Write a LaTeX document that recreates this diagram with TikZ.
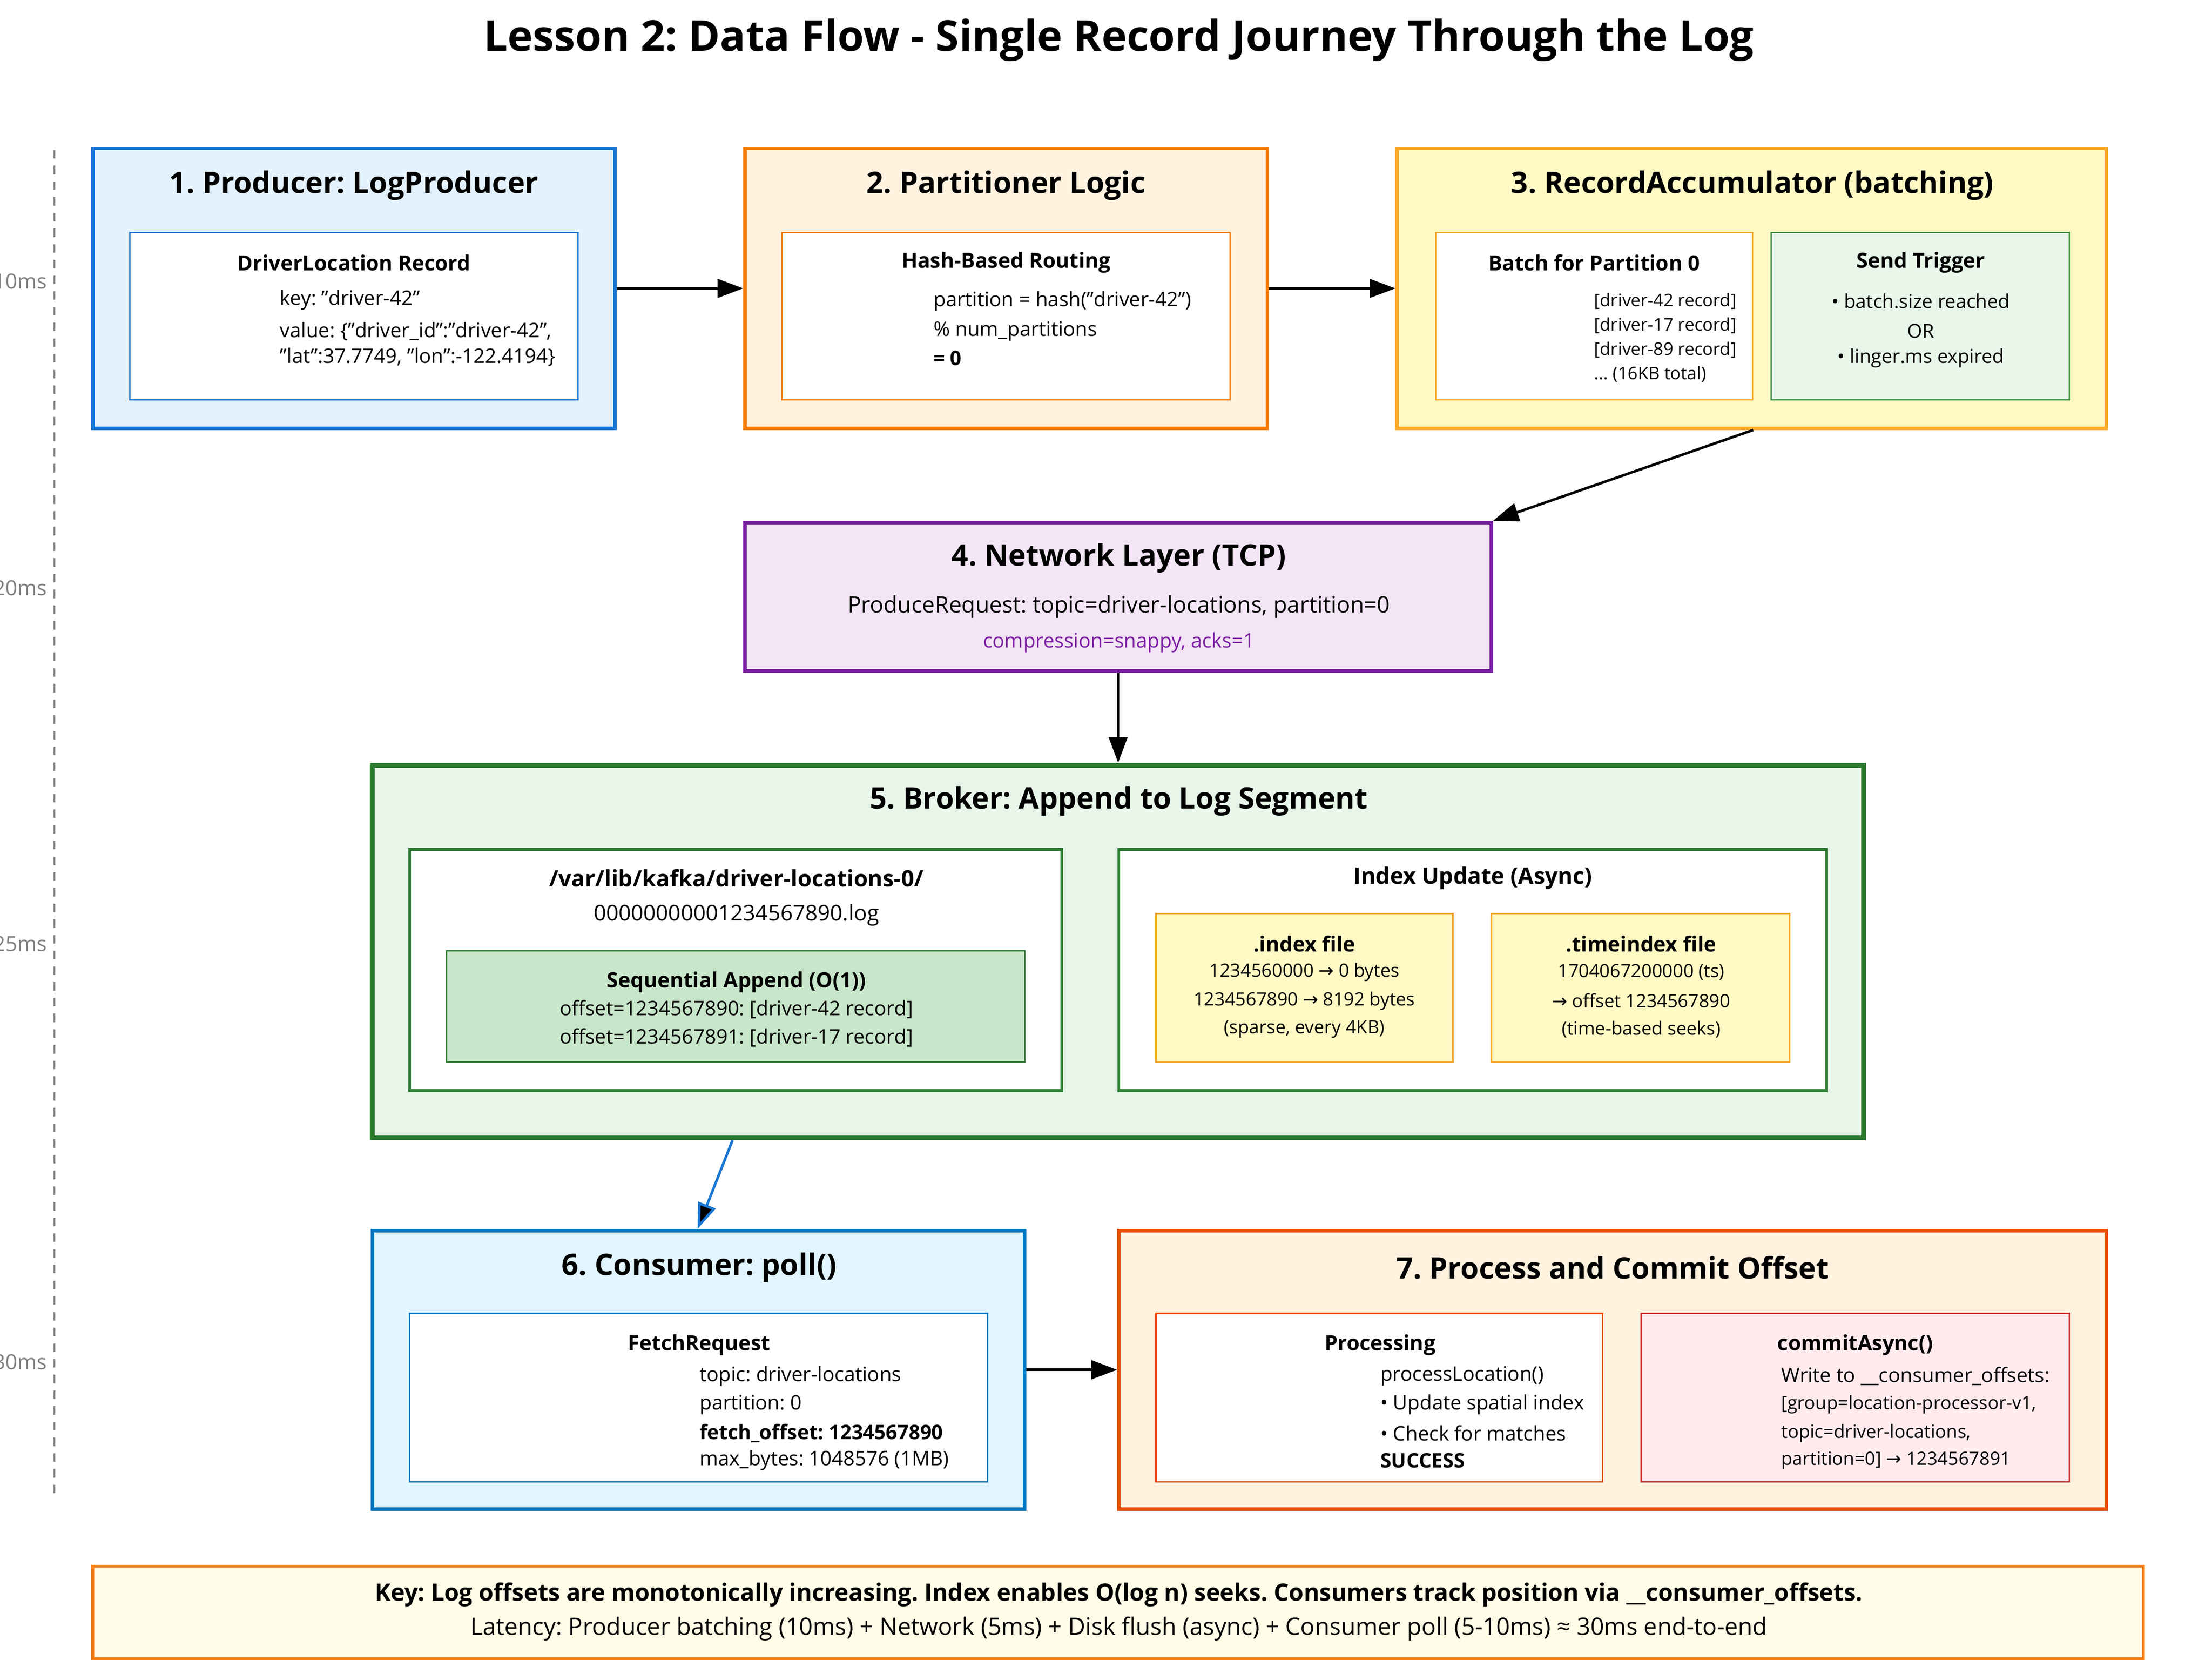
\documentclass[tikz,border=0pt]{standalone}
\usepackage{fontspec}
\setmainfont{Open Sans}
\newfontfamily\symfont{DejaVu Sans}
\frenchspacing
\usetikzlibrary{arrows.meta,positioning}
\newcommand{\fsz}[1]{\fontsize{\fpeval{1.22*#1}}{\fpeval{1.22*#1}}\selectfont}
\newcommand{\ar}{{\symfont →}}
\newcommand{\q}{\symbol{34}}
\definecolor{bluefill}{HTML}{E3F2FD}\definecolor{blueline}{HTML}{1976D2}
\definecolor{orfill}{HTML}{FFF3E0}\definecolor{orline}{HTML}{F57C00}
\definecolor{ylfill}{HTML}{FFF9C4}\definecolor{ylline}{HTML}{F9A825}
\definecolor{grfill}{HTML}{E8F5E9}\definecolor{grline}{HTML}{2E7D32}
\definecolor{grdark}{HTML}{C8E6C9}\definecolor{trgline}{HTML}{388E3C}
\definecolor{pufill}{HTML}{F3E5F5}\definecolor{puline}{HTML}{7B1FA2}
\definecolor{cyfill}{HTML}{E1F5FE}\definecolor{cyline}{HTML}{0277BD}
\definecolor{dorline}{HTML}{E65100}
\definecolor{rdfill}{HTML}{FFEBEE}\definecolor{rdline}{HTML}{C62828}
\definecolor{keyfill}{HTML}{FFFDE7}\definecolor{keyline}{HTML}{F57F17}
\tikzset{
  box/.style={draw, line width=2.4pt, inner sep=0pt},
  inbox/.style={draw, line width=1pt, inner sep=0pt},
  ttl/.style={font=\fsz{17}\bfseries, inner sep=0pt},
  sub/.style={font=\fsz{12}\bfseries, inner sep=0pt},
  txt/.style={font=\fsz{11.5}, inner sep=0pt, anchor=west},
  ctxt/.style={font=\fsz{11}, inner sep=0pt},
  tiny/.style={font=\fsz{10}, inner sep=0pt, anchor=west},
  tick/.style={font=\fsz{12}, text=gray, inner sep=0pt, anchor=east},
  flow/.style={-{Triangle[length=18pt,width=13pt]}, line width=1.8pt},
}
\newcommand{\boxat}[6]{% name, x1, y1, x2, y2, style
  \node[#6, minimum width={#4-#2}, minimum height={#5-#3}] (#1) at ({(#2+#4)/2},{(#3+#5)/2}) {};}
\begin{document}
\begin{tikzpicture}[x=1pt,y=-1pt]
  \useasboundingbox[fill=white] (0,0) rectangle (1550,1162.5);

  \node[font=\fsz{24.5}\bfseries] (title) at (784,28) {Lesson 2: Data Flow - Single Record Journey Through the Log};

  % time axis
  \draw[gray, dashed, line width=1.2pt, dash pattern=on 6pt off 5pt] (38,105) -- (38,1050);
  \node[tick] (t1) at (33,197) {10ms};
  \node[tick] (t2) at (33,412) {20ms};
  \node[tick] (t3) at (33,661) {25ms};
  \node[tick] (t4) at (33,954) {30ms};

  % 1. producer
  \boxat{prod}{65}{104}{431}{300}{box, draw=blueline, fill=bluefill}
  \node[ttl] (prodT) at (248,130) {1. Producer: LogProducer};
  \boxat{rec}{91}{163}{405}{280}{inbox, draw=blueline, fill=white}
  \node[sub] (recT) at (248,184) {DriverLocation Record};
  \node[txt] (rec1) at (196,210) {key: \q driver-42\q};
  \node[txt] (rec2) at (196,232) {value: \{\q driver\_id\q:\q driver-42\q,};
  \node[txt] (rec3) at (196,250) {\q lat\q:37.7749, \q lon\q:-122.4194\}};

  % 2. partitioner
  \boxat{part}{522}{104}{888}{300}{box, draw=orline, fill=orfill}
  \node[ttl] (partT) at (705,130) {2. Partitioner Logic};
  \boxat{hash}{548}{163}{862}{280}{inbox, draw=orline, fill=white}
  \node[sub] (hashT) at (705,184) {Hash-Based Routing};
  \node[txt] (hash1) at (654,211) {partition = hash(\q driver-42\q)};
  \node[txt] (hash2) at (654,232) {\% num\_partitions};
  \node[txt, font=\fsz{11.5}\bfseries] (hash3) at (654,251) {= 0};

  % 3. accumulator
  \boxat{acc}{979}{104}{1476}{300}{box, draw=ylline, fill=ylfill}
  \node[ttl] (accT) at (1228,130) {3. RecordAccumulator (batching)};
  \boxat{batch}{1006}{163}{1228}{280}{inbox, draw=ylline, fill=white}
  \node[sub] (batchT) at (1117,184) {Batch for Partition 0};
  \node[tiny] (b1) at (1117,211) {[driver-42 record]};
  \node[tiny] (b2) at (1117,228) {[driver-17 record]};
  \node[tiny] (b3) at (1117,245) {[driver-89 record]};
  \node[tiny] (b4) at (1117,262) {... (16KB total)};
  \boxat{trig}{1241}{163}{1450}{280}{inbox, draw=trgline, fill=grfill}
  \node[sub] (trigT) at (1346,184) {Send Trigger};
  \node[ctxt] (tr1) at (1346,211) {• batch.size reached};
  \node[ctxt] (tr2) at (1346,232) {OR};
  \node[ctxt] (tr3) at (1346,251) {• linger.ms expired};

  % 4. network
  \boxat{net}{522}{366}{1045}{470}{box, draw=puline, fill=pufill}
  \node[ttl] (netT) at (784,391) {4. Network Layer (TCP)};
  \node[font=\fsz{13}, inner sep=0pt] (net1) at (784,425) {ProduceRequest: topic=driver-locations, partition=0};
  \node[font=\fsz{11.5}, text=puline, inner sep=0pt] (net2) at (784,450) {compression=snappy, acks=1};

  % 5. broker
  \boxat{brk}{261}{536}{1306}{797}{box, line width=3.4pt, draw=grline, fill=grfill}
  \node[ttl] (brkT) at (784,561) {5. Broker: Append to Log Segment};
  \boxat{seg}{287}{595}{744}{764}{inbox, line width=2pt, draw=grline, fill=white}
  \node[font=\fsz{13}\bfseries, inner sep=0pt] (segT) at (516,615) {/var/lib/kafka/driver-locations-0/};
  \node[font=\fsz{12.5}, inner sep=0pt] (segF) at (516,641) {00000000001234567890.log};
  \boxat{seq}{313}{666}{718}{744}{inbox, draw=grline, fill=grdark}
  \node[sub] (seqT) at (516,688) {Sequential Append (O(1))};
  \node[ctxt, font=\fsz{11.5}] (seq1) at (516,707) {offset=1234567890: [driver-42 record]};
  \node[ctxt, font=\fsz{11.5}] (seq2) at (516,727) {offset=1234567891: [driver-17 record]};
  \boxat{idx}{784}{595}{1280}{764}{inbox, line width=2pt, draw=grline, fill=white}
  \node[font=\fsz{13}\bfseries, inner sep=0pt] (idxT) at (1032,615) {Index Update (Async)};
  \boxat{ixf}{810}{640}{1018}{744}{inbox, draw=ylline, fill=ylfill}
  \node[sub] (ixfT) at (914,661) {.index file};
  \node[ctxt, font=\fsz{10.5}] (ix1) at (914,681) {1234560000 \ar{} 0 bytes};
  \node[ctxt, font=\fsz{10.5}] (ix2) at (914,701) {1234567890 \ar{} 8192 bytes};
  \node[ctxt, font=\fsz{10.5}] (ix3) at (914,721) {(sparse, every 4KB)};
  \boxat{tix}{1045}{640}{1254}{744}{inbox, draw=ylline, fill=ylfill}
  \node[sub] (tixT) at (1150,661) {.timeindex file};
  \node[ctxt, font=\fsz{10.5}] (ti1) at (1150,681) {1704067200000 (ts)};
  \node[ctxt, font=\fsz{10.5}] (ti2) at (1150,701) {\ar{} offset 1234567890};
  \node[ctxt, font=\fsz{10.5}] (ti3) at (1150,721) {(time-based seeks)};

  % 6. consumer
  \boxat{cons}{261}{862}{718}{1057}{box, draw=cyline, fill=cyfill}
  \node[ttl] (consT) at (490,888) {6. Consumer: poll()};
  \boxat{fetch}{287}{920}{692}{1038}{inbox, draw=cyline, fill=white}
  \node[sub] (fetchT) at (490,942) {FetchRequest};
  \node[txt] (f1) at (490,964) {topic: driver-locations};
  \node[txt] (f2) at (490,984) {partition: 0};
  \node[txt, font=\fsz{11.5}\bfseries] (f3) at (490,1004) {fetch\_offset: 1234567890};
  \node[txt] (f4) at (490,1023) {max\_bytes: 1048576 (1MB)};

  % 7. process and commit
  \boxat{proc}{784}{862}{1476}{1057}{box, draw=dorline, fill=orfill}
  \node[ttl] (procT) at (1130,888) {7. Process and Commit Offset};
  \boxat{work}{810}{920}{1123}{1038}{inbox, draw=dorline, fill=white}
  \node[sub] (workT) at (967,942) {Processing};
  \node[txt] (w1) at (967,964) {processLocation()};
  \node[txt] (w2) at (967,984) {• Update spatial index};
  \node[txt] (w3) at (967,1004) {• Check for matches};
  \node[txt, font=\fsz{11.5}\bfseries] (w4) at (967,1023) {SUCCESS};
  \boxat{commit}{1150}{920}{1450}{1038}{inbox, draw=rdline, fill=rdfill}
  \node[sub] (commitT) at (1300,942) {commitAsync()};
  \node[txt] (c1) at (1248,964) {Write to \_\_consumer\_offsets:};
  \node[tiny, font=\fsz{10.5}] (c2) at (1248,984) {[group=location-processor-v1,};
  \node[tiny, font=\fsz{10.5}] (c3) at (1248,1004) {topic=driver-locations,};
  \node[tiny, font=\fsz{10.5}] (c4) at (1248,1023) {partition=0] \ar{} 1234567891};

  % key
  \boxat{key}{65}{1097}{1502}{1162}{box, line width=2pt, draw=keyline, fill=keyfill}
  \node[font=\fsz{13.7}\bfseries, inner sep=0pt] (key1) at (784,1117) {Key: Log offsets are monotonically increasing. Index enables O(log n) seeks. Consumers track position via \_\_consumer\_offsets.};
  \node[font=\fsz{13.7}, inner sep=0pt] (key2) at (784,1141) {Latency: Producer batching (10ms) + Network (5ms) + Disk flush (async) + Consumer poll (5-10ms) ≈ 30ms end-to-end};

  % connectors
  \draw[flow] (prod.east) -- (part.west);
  \draw[flow] (part.east) -- (acc.west);
  \draw[flow] (batch.east |- acc.south) -- (net.north east);
  \draw[flow] (net.south) -- (brk.north);
  \draw[flow, draw=blueline, -{Triangle[length=18pt,width=13pt,fill=black]}] ([xshift=254pt]brk.south west) -- ([xshift=229pt]cons.north west);
  \draw[flow] (cons.east) -- (proc.west);
\end{tikzpicture}
\end{document}
